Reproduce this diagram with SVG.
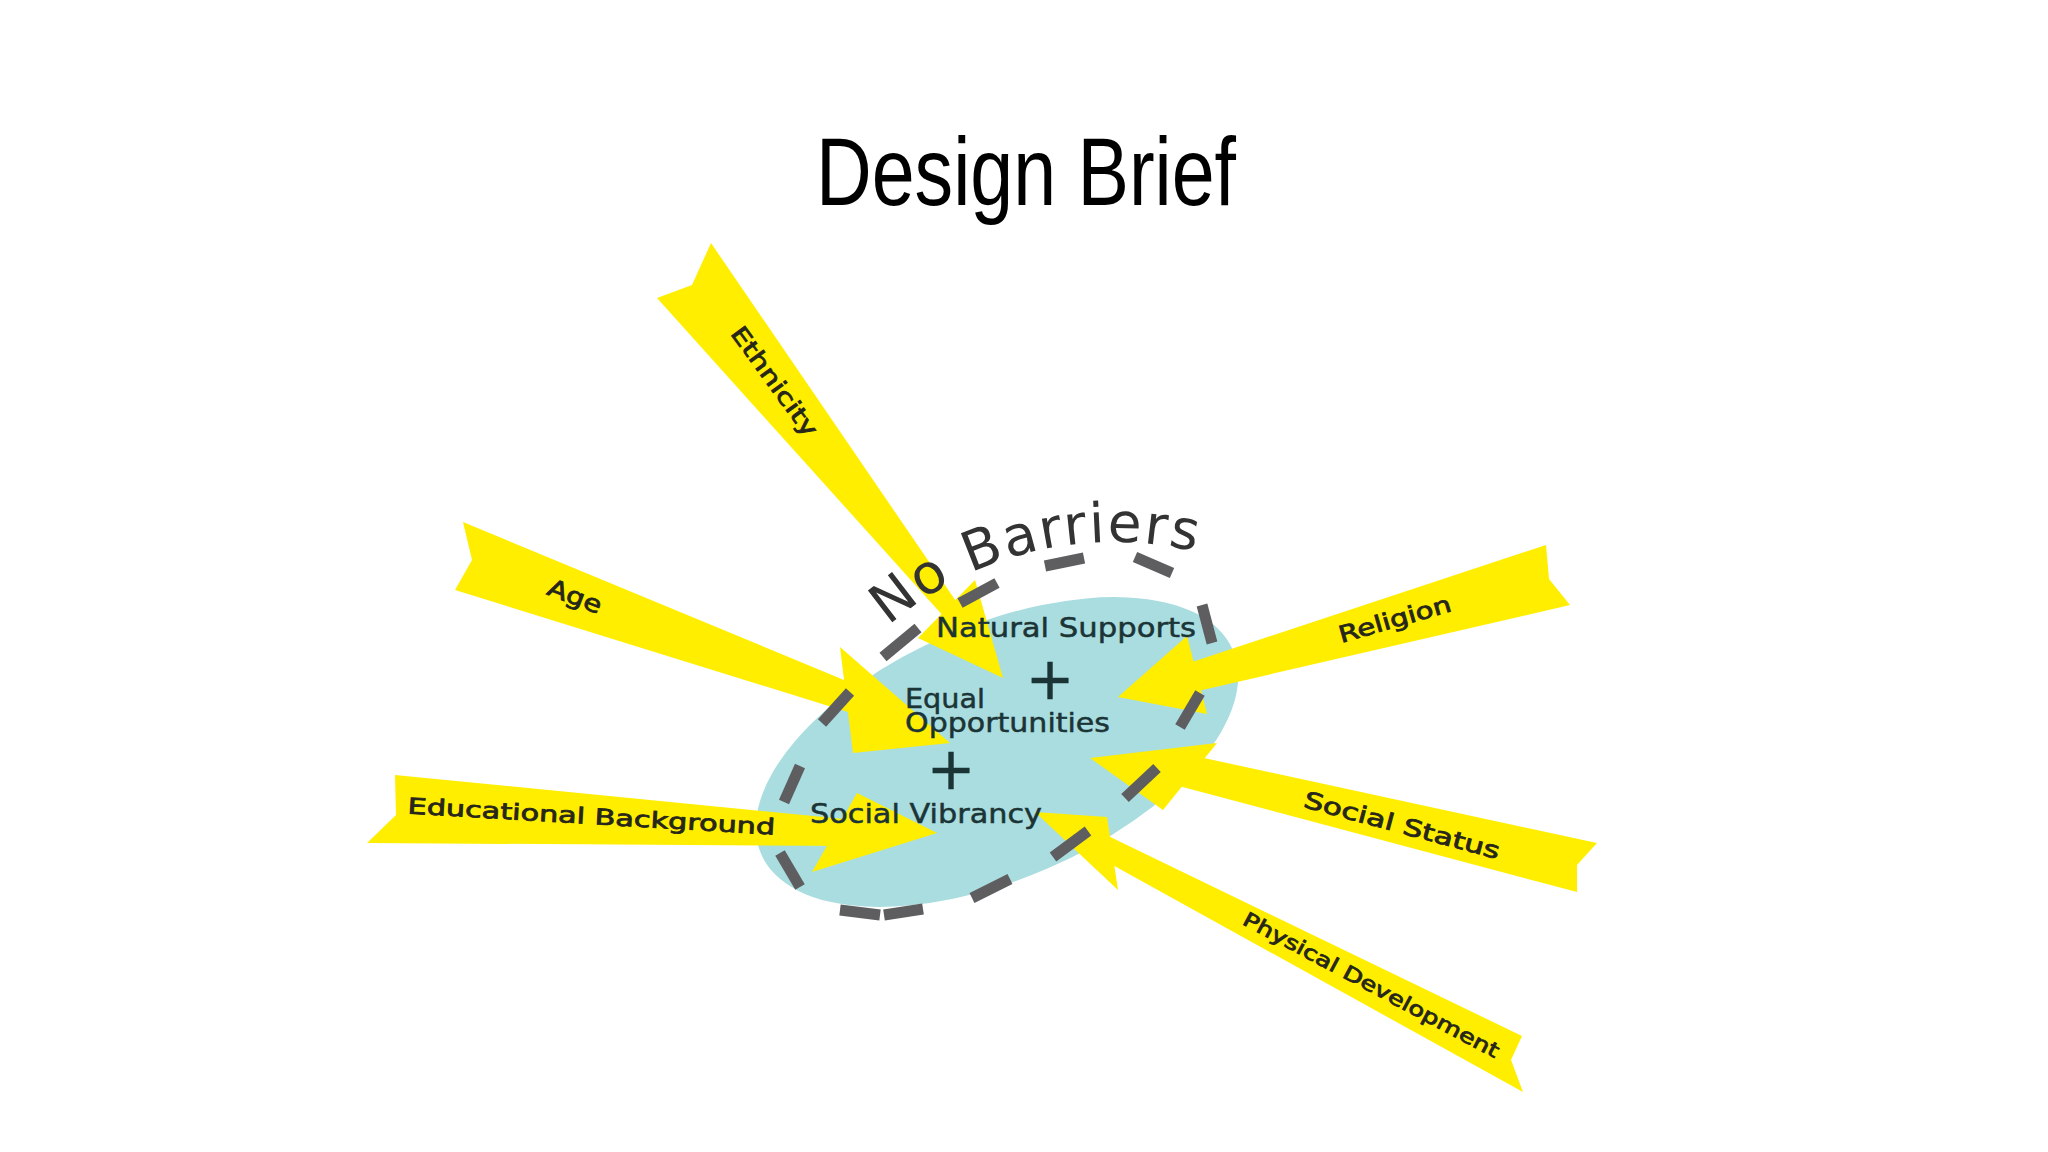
<svg xmlns="http://www.w3.org/2000/svg" width="2048" height="1152" viewBox="0 0 2048 1152">
<style>
.arrow{fill:#FFEE00}
.lbl{font-family:"DejaVu Sans","Liberation Sans",sans-serif;fill:#26261a;stroke:#26261a;stroke-width:0.8}
.inner{font-family:"DejaVu Sans","Liberation Sans",sans-serif;fill:#1b3436;stroke:#1b3436;stroke-width:0.5}
.dash{stroke:#5e5e60;stroke-width:11;stroke-linecap:butt;fill:none}
.nb{font-family:"DejaVu Sans","Liberation Sans",sans-serif;fill:#333333}
</style>
<defs>
<path id="arc" d="M 868,645 A 345 345 0 0 1 1218,558"/>
</defs>
<rect width="2048" height="1152" fill="#ffffff"/>
<text id="title" x="816" y="205" font-family="Liberation Sans, Arial, sans-serif" font-size="96" fill="#000" textLength="420" lengthAdjust="spacingAndGlyphs">Design Brief</text>

<g id="hub">
<ellipse cx="997" cy="752" rx="257" ry="127" transform="rotate(-23.4 997 752)" fill="#AADDE0"/>
</g>

<g id="connectors">
<g id="arrow-ethnicity">
<polygon class="arrow" points="711,243 962,610 945,618 657,298 692,285"/>
<polygon class="arrow" points="975,580 1003,678 918,638"/>
<text class="lbl" font-size="23" text-anchor="middle" textLength="130" lengthAdjust="spacingAndGlyphs" transform="translate(768,386) rotate(54)">Ethnicity</text>
</g>
<g id="arrow-age">
<polygon class="arrow" points="463,522 885,697 880,722 455,590 472,560"/>
<polygon class="arrow" points="840,647 950,743 853,753"/>
<text class="lbl" font-size="24" text-anchor="middle" textLength="56" lengthAdjust="spacingAndGlyphs" transform="translate(572,604) rotate(21)">Age</text>
</g>
<g id="arrow-education">
<polygon class="arrow" points="395,775 875,822 855,846 367,843 396,815"/>
<polygon class="arrow" points="857,793 937,833 812,872"/>
<text class="lbl" font-size="22" text-anchor="middle" textLength="368" lengthAdjust="spacingAndGlyphs" transform="translate(591,824) rotate(3.3)">Educational Background</text>
</g>
<g id="arrow-religion">
<polygon class="arrow" points="1546,545 1168,670 1185,694 1570,605 1549,579"/>
<polygon class="arrow" points="1187,636 1118,697 1207,714"/>
<text class="lbl" font-size="23" text-anchor="middle" textLength="116" lengthAdjust="spacingAndGlyphs" transform="translate(1397,627) rotate(-16)">Religion</text>
</g>
<g id="arrow-social-status">
<polygon class="arrow" points="1597,843 1190,755 1175,785 1577,892 1577,865"/>
<polygon class="arrow" points="1217,743 1090,758 1163,810"/>
<text class="lbl" font-size="23" text-anchor="middle" textLength="202" lengthAdjust="spacingAndGlyphs" transform="translate(1400,833) rotate(15)">Social Status</text>
</g>
<g id="arrow-physical">
<polygon class="arrow" points="1522,1036 1100,832 1100,858 1523,1092 1511,1060"/>
<polygon class="arrow" points="1107,817 1035,812 1118,890"/>
<text class="lbl" font-size="20" text-anchor="middle" textLength="287" lengthAdjust="spacingAndGlyphs" transform="translate(1368,991) rotate(28)">Physical Development</text>
</g>
</g>

<g id="barrier-ring">
<line class="dash" x1="960" y1="603" x2="997" y2="583"/>
<line class="dash" x1="883" y1="657" x2="918" y2="628"/>
<line class="dash" x1="822" y1="723" x2="850" y2="692"/>
<line class="dash" x1="800" y1="766" x2="784" y2="802"/>
<line class="dash" x1="780" y1="853" x2="800" y2="887"/>
<line class="dash" x1="840" y1="910" x2="880" y2="915"/>
<line class="dash" x1="884" y1="915" x2="923" y2="909"/>
<line class="dash" x1="972" y1="898" x2="1010" y2="879"/>
<line class="dash" x1="1053" y1="857" x2="1088" y2="831"/>
<line class="dash" x1="1125" y1="798" x2="1157" y2="768"/>
<line class="dash" x1="1180" y1="727" x2="1200" y2="693"/>
<line class="dash" x1="1202" y1="605" x2="1212" y2="643"/>
<line class="dash" x1="1135" y1="557" x2="1172" y2="573"/>
<line class="dash" x1="1045" y1="566" x2="1084" y2="558"/>
</g>

<g id="no-barriers">
<text class="nb" font-size="55"><textPath href="#arc" startOffset="28" textLength="328" lengthAdjust="spacing">No Barriers</textPath></text>
</g>

<g id="hub-labels">
<text id="natural-supports" class="inner" x="936" y="637" font-size="27" textLength="260" lengthAdjust="spacingAndGlyphs">Natural Supports</text>
<text class="inner" x="1050" y="699" font-size="58" text-anchor="middle">+</text>
<text id="equal-opportunities" class="inner" font-size="27"><tspan x="905" y="708" textLength="80" lengthAdjust="spacingAndGlyphs">Equal</tspan><tspan x="905" y="732" textLength="205" lengthAdjust="spacingAndGlyphs">Opportunities</tspan></text>
<text class="inner" x="951" y="789" font-size="58" text-anchor="middle">+</text>
<text id="social-vibrancy" class="inner" x="810" y="823" font-size="27" textLength="232" lengthAdjust="spacingAndGlyphs">Social Vibrancy</text>
</g>
</svg>
